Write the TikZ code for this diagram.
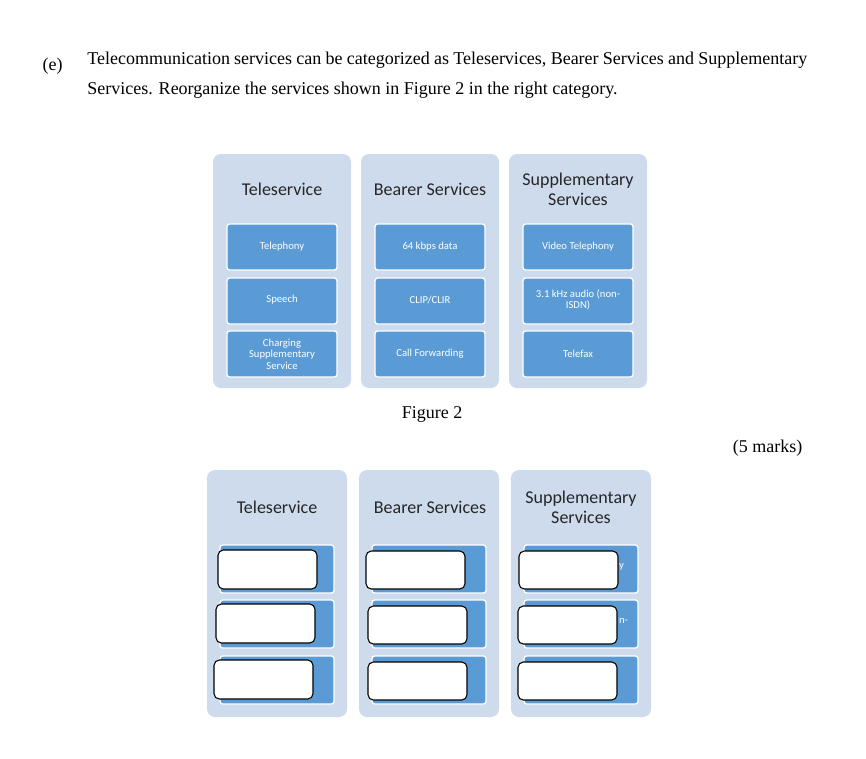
\documentclass[tikz,border=0pt]{standalone}
\usepackage{fontspec}
\setmainfont{Liberation Serif}
\newfontfamily\calfont{Carlito}
\begin{document}
\begin{tikzpicture}[x=0.75pt,y=-0.75pt,
 panel/.style={fill=panelc,rounded corners=6pt},
 inbox/.style={fill=boxc,draw=white,line width=1pt,rounded corners=2pt,text=white,font=\calfont\fontsize{8}{8.5}\selectfont,align=center},
 wbox/.style={fill=white,draw=black,line width=0.8pt,rounded corners=4pt},
 head/.style={font=\calfont\fontsize{13.5}{15}\selectfont,text=black!85,align=center},
 body/.style={font=\fontsize{13.5}{22}\selectfont}]
\definecolor{panelc}{RGB}{206,219,237}
\definecolor{boxc}{RGB}{91,155,213}
\useasboundingbox (0,0) rectangle (866,758);
\node[body,anchor=base west] (e) at (38,70) {(e)};
\node[body,anchor=north west,text width=540pt,align=justify,inner sep=0pt] (q) at (87,52)
 {Telecommunication services can be categorized as Teleservices, Bearer Services and Supplementary Services. Reorganize the services shown in Figure 2 in the right category.};
% top
\foreach \x in {213,361,509}
 \fill[panel] (\x,154) rectangle ++(138,234);
\node[head] (h1) at (282,189) {Teleservice};
\node[head] (h2) at (430,189) {Bearer Services};
\node[head] (h3) at (578,189) {Supplementary\\Services};
\foreach \x in {227,375,523}{
 \foreach \y in {224,278,331}
  \path[inbox] (\x,\y) rectangle ++(110,46);
}
\node[inbox,draw=none,fill=none] (t11) at (282,247) {Telephony};
\node[inbox,draw=none,fill=none] (t12) at (282,300) {Speech};
\node[inbox,draw=none,fill=none] (t13) at (282,354) {Charging\\Supplementary\\Service};
\node[inbox,draw=none,fill=none] (t21) at (430,247) {64 kbps data};
\node[inbox,draw=none,fill=none] (t22) at (430,300) {CLIP/CLIR};
\node[inbox,draw=none,fill=none] (t23) at (430,354) {Call Forwarding};
\node[inbox,draw=none,fill=none] (t31) at (578,247) {Video Telephony};
\node[inbox,draw=none,fill=none] (t32) at (578,300) {3.1 kHz audio (non-\\ISDN)};
\node[inbox,draw=none,fill=none] (t33) at (578,354) {Telefax};
\node[body] (fig) at (432,414) {Figure 2};
\node[body,anchor=east] (m) at (807,448) {(5 marks)};
% bottom
\foreach \x in {207,359,511}
 \fill[panel] (\x,470) rectangle ++(140,247);
\node[head] (b1) at (277,507) {Teleservice};
\node[head] (b2) at (430,507) {Bearer Services};
\node[head] (b3) at (581,507) {Supplementary\\Services};
\foreach \x in {220,372,524}{
 \foreach \y in {545,600,656}
  \path[inbox] (\x,\y) rectangle ++(114,48);
}
\node[inbox,draw=none,fill=none,anchor=west] (r1) at (614,567) {y};
\node[inbox,draw=none,fill=none,anchor=west] (r2) at (614,621) {n-};
\draw[wbox] (218,550) rectangle (317,589);
\draw[wbox] (216,604) rectangle (315,643);
\draw[wbox] (214,660) rectangle (313,699);
\draw[wbox] (366,551) rectangle (465,589);
\draw[wbox] (368,606) rectangle (467,644);
\draw[wbox] (368,662) rectangle (467,700);
\draw[wbox] (519,551) rectangle (618,589);
\draw[wbox] (518,606) rectangle (617,644);
\draw[wbox] (518,662) rectangle (617,700);
\end{tikzpicture}
\end{document}
